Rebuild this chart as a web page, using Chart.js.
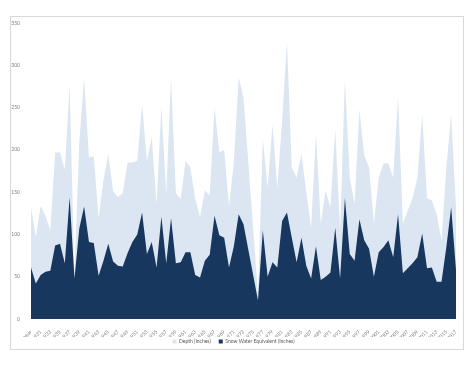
<!DOCTYPE html>
<html>
<head>
<meta charset="utf-8">
<script src="https://cdn.jsdelivr.net/npm/chart.js"></script>
<style>
  body { margin: 0; background: #fff; }
  #box { position: absolute; left: 10px; top: 16px; width: 452px; height: 332px; border: 1px solid #d9d9d9; }
</style>
</head>
<body>
<div id="box"><canvas id="snowChart" width="452" height="332"></canvas></div>
<script>
// Categories (first row of the sheet is the "Year" header)
const years = ["Year",
  "1930","1931","1932","1933","1934","1935","1936","1937","1938","1939",
  "1940","1941","1942","1943","1944","1945","1946","1947","1948","1949",
  "1950","1951","1952","1953","1954","1955","1956","1957","1958","1959",
  "1960","1961","1962","1963","1964","1965","1966","1967","1968","1969",
  "1970","1971","1972","1973","1974","1975","1976","1977","1978","1979",
  "1980","1981","1982","1983","1984","1985","1986","1987","1988","1989",
  "1990","1991","1992","1993","1994","1995","1996","1997","1998","1999",
  "2000","2001","2002","2003","2004","2005","2006","2007","2008","2009",
  "2010","2011","2012","2013","2014","2015","2016","2017"];

// Depth (Inches)
const depth = [
  132, 97, 134, 122, 105, 197, 197, 177, 276, 52,
  210, 285, 191, 192, 119, 164, 195, 151, 144, 149,
  185, 185, 187, 254, 187, 215, 136, 251, 148, 286,
  149, 142, 187, 179, 142, 121, 152, 146, 250, 197,
  200, 133, 185, 286, 262, 185, 107, 30, 213, 155,
  230, 155, 235, 328, 179, 167, 195, 150, 108, 220,
  113, 152, 132, 224, 105, 284, 167, 136, 248, 193,
  179, 113, 167, 184, 184, 167, 263, 113, 128, 143,
  167, 242, 143, 140, 124, 93, 179, 242, 132
];

// Snow Water Equivalent (Inches)
const swe = [
  61, 42, 52, 56, 57, 87, 89, 66, 144, 48,
  107, 133, 91, 90, 51, 69, 89, 68, 63, 62,
  78, 91, 100, 126, 77, 91, 61, 121, 66, 119,
  66, 67, 79, 79, 52, 49, 69, 76, 122, 99,
  96, 61, 86, 124, 112, 82, 52, 22, 105, 50,
  67, 61, 116, 126, 96, 67, 96, 63, 48, 86,
  46, 50, 55, 108, 48, 143, 77, 69, 118, 93,
  83, 50, 79, 85, 93, 73, 124, 54, 60, 66,
  73, 101, 60, 61, 44, 44, 85, 132, 58
];

const yTicks = [0, 50, 100, 150, 200, 250, 300, 350];

Chart.defaults.font.family = 'Lato, "Open Sans", sans-serif';
Chart.defaults.color = '#7f7f7f';

// pull the legend up a little, closer to the rotated year labels
const legendNudge = {
  id: 'legendNudge',
  afterLayout(chart) {
    chart.legend.top -= 6;
    chart.legend.bottom -= 6;
  }
};

new Chart(document.getElementById('snowChart'), {
  type: 'line',
  data: {
    labels: years,
    datasets: [
      {
        label: 'Depth (Inches)',
        data: depth,
        backgroundColor: '#dce6f2',
        borderWidth: 0,
        pointRadius: 0,
        fill: 'origin',
        order: 1
      },
      {
        label: 'Snow Water Equivalent (Inches)',
        data: swe,
        backgroundColor: '#17375e',
        borderWidth: 0,
        pointRadius: 0,
        fill: 'origin',
        order: 0
      }
    ]
  },
  options: {
    responsive: false,
    animation: false,
    layout: { padding: { top: 4, right: 7, left: 0, bottom: -11 } },
    scales: {
      x: {
        grid: { display: false },
        border: { display: false },
        ticks: {
          autoSkip: false,
          maxRotation: 45,
          minRotation: 45,
          padding: 2,
          font: { size: 5 },
          callback: function (v, i) { return i % 2 === 0 ? this.getLabelForValue(v) : null; }
        },
        afterFit: s => { s.height = 18; }
      },
      y: {
        min: 0,
        max: 350,
        grid: { display: false },
        border: { display: false },
        afterBuildTicks: s => { s.ticks = yTicks.map(v => ({ value: v })); },
        ticks: { font: { size: 5 }, padding: 3 },
        afterFit: s => { s.width = 20; }
      }
    },
    plugins: {
      legend: {
        position: 'bottom',
        labels: {
          boxWidth: 4,
          boxHeight: 4,
          padding: 8,
          font: { size: 5 },
          color: '#595959',
          sort: (a, b) => a.datasetIndex - b.datasetIndex
        }
      },
      tooltip: { enabled: false }
    }
  },
  plugins: [legendNudge]
});
</script>
</body>
</html>
